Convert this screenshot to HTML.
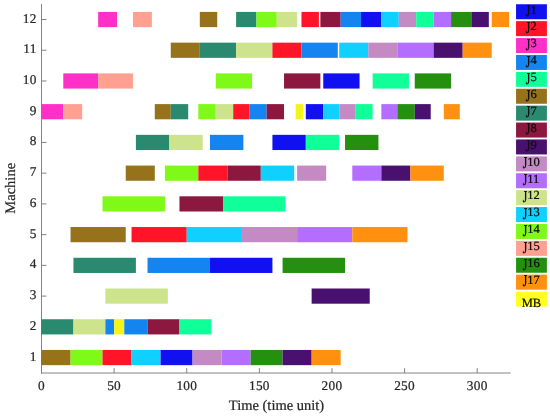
<!DOCTYPE html>
<html lang="en"><head><meta charset="utf-8"><title>Gantt chart</title>
<style>
html,body{margin:0;padding:0;background:#fff;}
body{width:550px;height:416px;overflow:hidden;}
svg{display:block;}
svg text{font-family:"Liberation Serif",serif;fill:#262626;stroke:#262626;stroke-width:0.22px;text-rendering:geometricPrecision;}
.lg text{font-size:12.5px;fill:#0c0c0c;stroke:#0c0c0c;}
.tk text{font-size:13.3px;letter-spacing:0.25px;}
.al{font-size:14.5px;}
</style></head><body>
<svg width="550" height="416" viewBox="0 0 550 416">
<rect width="550" height="416" fill="#fff"/>
<g stroke="#848484" stroke-width="1" fill="none">
<path d="M41.5 4.1V373.6"/>
<path d="M41 373H510.6" stroke-width="1.15"/>
<path d="M41.5 357.56H46.5"/>
<path d="M41.5 326.83H46.5"/>
<path d="M41.5 296.10H46.5"/>
<path d="M41.5 265.37H46.5"/>
<path d="M41.5 234.64H46.5"/>
<path d="M41.5 203.91H46.5"/>
<path d="M41.5 173.17H46.5"/>
<path d="M41.5 142.44H46.5"/>
<path d="M41.5 111.71H46.5"/>
<path d="M41.5 80.98H46.5"/>
<path d="M41.5 50.25H46.5"/>
<path d="M41.5 19.52H46.5"/>
<path d="M41.50 373V368.1"/>
<path d="M114.12 373V368.1"/>
<path d="M186.73 373V368.1"/>
<path d="M259.35 373V368.1"/>
<path d="M331.97 373V368.1"/>
<path d="M404.58 373V368.1"/>
<path d="M477.20 373V368.1"/>
</g>
<g>
<rect x="98.14" y="11.92" width="18.88" height="15.2" fill="#FF30C8"/>
<rect x="133.00" y="11.92" width="18.88" height="15.2" fill="#FFA090"/>
<rect x="199.80" y="11.92" width="17.43" height="15.2" fill="#96721A"/>
<rect x="236.11" y="11.92" width="20.33" height="15.2" fill="#2A8A70"/>
<rect x="256.45" y="11.92" width="20.33" height="15.2" fill="#7FF918"/>
<rect x="276.78" y="11.92" width="20.33" height="15.2" fill="#CDE48C"/>
<rect x="301.47" y="11.92" width="17.43" height="15.2" fill="#FF1428"/>
<rect x="320.35" y="11.92" width="20.33" height="15.2" fill="#8C1840"/>
<rect x="340.68" y="11.92" width="20.33" height="15.2" fill="#1485F0"/>
<rect x="361.01" y="11.92" width="20.33" height="15.2" fill="#1010F0"/>
<rect x="381.35" y="11.92" width="17.43" height="15.2" fill="#10D0FF"/>
<rect x="398.77" y="11.92" width="17.43" height="15.2" fill="#C48AC4"/>
<rect x="416.20" y="11.92" width="17.43" height="15.2" fill="#10FF98"/>
<rect x="433.63" y="11.92" width="17.43" height="15.2" fill="#B46EFF"/>
<rect x="451.06" y="11.92" width="20.33" height="15.2" fill="#259010"/>
<rect x="471.39" y="11.92" width="17.43" height="15.2" fill="#4A1070"/>
<rect x="491.72" y="11.92" width="17.43" height="15.2" fill="#FF9010"/>
<rect x="170.76" y="42.65" width="29.05" height="15.2" fill="#96721A"/>
<rect x="199.80" y="42.65" width="36.31" height="15.2" fill="#2A8A70"/>
<rect x="236.11" y="42.65" width="36.31" height="15.2" fill="#CDE48C"/>
<rect x="272.42" y="42.65" width="29.05" height="15.2" fill="#FF1428"/>
<rect x="301.47" y="42.65" width="36.31" height="15.2" fill="#1485F0"/>
<rect x="339.23" y="42.65" width="29.05" height="15.2" fill="#10D0FF"/>
<rect x="368.27" y="42.65" width="29.05" height="15.2" fill="#C48AC4"/>
<rect x="397.32" y="42.65" width="36.31" height="15.2" fill="#B46EFF"/>
<rect x="433.63" y="42.65" width="29.05" height="15.2" fill="#4A1070"/>
<rect x="462.68" y="42.65" width="29.05" height="15.2" fill="#FF9010"/>
<rect x="63.28" y="73.38" width="34.86" height="15.2" fill="#FF30C8"/>
<rect x="98.14" y="73.38" width="34.86" height="15.2" fill="#FFA090"/>
<rect x="215.78" y="73.38" width="36.31" height="15.2" fill="#7FF918"/>
<rect x="284.04" y="73.38" width="36.31" height="15.2" fill="#8C1840"/>
<rect x="323.25" y="73.38" width="36.31" height="15.2" fill="#1010F0"/>
<rect x="372.63" y="73.38" width="36.31" height="15.2" fill="#10FF98"/>
<rect x="414.75" y="73.38" width="36.31" height="15.2" fill="#259010"/>
<rect x="41.20" y="104.11" width="22.08" height="15.2" fill="#FF30C8"/>
<rect x="63.28" y="104.11" width="18.88" height="15.2" fill="#FFA090"/>
<rect x="154.78" y="104.11" width="15.98" height="15.2" fill="#96721A"/>
<rect x="170.76" y="104.11" width="17.43" height="15.2" fill="#2A8A70"/>
<rect x="198.35" y="104.11" width="17.43" height="15.2" fill="#7FF918"/>
<rect x="215.78" y="104.11" width="17.43" height="15.2" fill="#CDE48C"/>
<rect x="233.21" y="104.11" width="15.98" height="15.2" fill="#FF1428"/>
<rect x="249.18" y="104.11" width="17.43" height="15.2" fill="#1485F0"/>
<rect x="266.61" y="104.11" width="17.43" height="15.2" fill="#8C1840"/>
<rect x="295.66" y="104.11" width="7.26" height="15.2" fill="#F4F418"/>
<rect x="305.82" y="104.11" width="17.43" height="15.2" fill="#1010F0"/>
<rect x="323.25" y="104.11" width="15.98" height="15.2" fill="#10D0FF"/>
<rect x="339.23" y="104.11" width="15.98" height="15.2" fill="#C48AC4"/>
<rect x="355.20" y="104.11" width="17.43" height="15.2" fill="#10FF98"/>
<rect x="381.35" y="104.11" width="15.98" height="15.2" fill="#B46EFF"/>
<rect x="397.32" y="104.11" width="17.43" height="15.2" fill="#259010"/>
<rect x="414.75" y="104.11" width="15.98" height="15.2" fill="#4A1070"/>
<rect x="443.80" y="104.11" width="15.98" height="15.2" fill="#FF9010"/>
<rect x="135.90" y="134.84" width="33.40" height="15.2" fill="#2A8A70"/>
<rect x="169.31" y="134.84" width="33.40" height="15.2" fill="#CDE48C"/>
<rect x="209.97" y="134.84" width="33.40" height="15.2" fill="#1485F0"/>
<rect x="272.42" y="134.84" width="33.40" height="15.2" fill="#1010F0"/>
<rect x="305.82" y="134.84" width="33.40" height="15.2" fill="#10FF98"/>
<rect x="345.04" y="134.84" width="33.40" height="15.2" fill="#259010"/>
<rect x="125.74" y="165.57" width="29.05" height="15.2" fill="#96721A"/>
<rect x="164.95" y="165.57" width="33.40" height="15.2" fill="#7FF918"/>
<rect x="198.35" y="165.57" width="29.05" height="15.2" fill="#FF1428"/>
<rect x="227.40" y="165.57" width="33.40" height="15.2" fill="#8C1840"/>
<rect x="260.80" y="165.57" width="33.40" height="15.2" fill="#10D0FF"/>
<rect x="297.11" y="165.57" width="29.05" height="15.2" fill="#C48AC4"/>
<rect x="352.30" y="165.57" width="29.05" height="15.2" fill="#B46EFF"/>
<rect x="381.35" y="165.57" width="29.05" height="15.2" fill="#4A1070"/>
<rect x="410.39" y="165.57" width="33.40" height="15.2" fill="#FF9010"/>
<rect x="102.50" y="196.31" width="62.45" height="15.2" fill="#7FF918"/>
<rect x="179.47" y="196.31" width="43.57" height="15.2" fill="#8C1840"/>
<rect x="223.04" y="196.31" width="62.45" height="15.2" fill="#10FF98"/>
<rect x="70.55" y="227.04" width="55.19" height="15.2" fill="#96721A"/>
<rect x="131.54" y="227.04" width="55.19" height="15.2" fill="#FF1428"/>
<rect x="186.73" y="227.04" width="55.19" height="15.2" fill="#10D0FF"/>
<rect x="241.92" y="227.04" width="55.19" height="15.2" fill="#C48AC4"/>
<rect x="297.11" y="227.04" width="55.19" height="15.2" fill="#B46EFF"/>
<rect x="352.30" y="227.04" width="55.19" height="15.2" fill="#FF9010"/>
<rect x="73.45" y="257.77" width="62.45" height="15.2" fill="#2A8A70"/>
<rect x="147.52" y="257.77" width="62.45" height="15.2" fill="#1485F0"/>
<rect x="209.97" y="257.77" width="62.45" height="15.2" fill="#1010F0"/>
<rect x="282.59" y="257.77" width="62.45" height="15.2" fill="#259010"/>
<rect x="105.40" y="288.50" width="62.45" height="15.2" fill="#CDE48C"/>
<rect x="311.63" y="288.50" width="58.09" height="15.2" fill="#4A1070"/>
<rect x="41.20" y="319.23" width="32.25" height="15.2" fill="#2A8A70"/>
<rect x="73.45" y="319.23" width="31.95" height="15.2" fill="#CDE48C"/>
<rect x="105.40" y="319.23" width="8.71" height="15.2" fill="#1485F0"/>
<rect x="114.12" y="319.23" width="10.17" height="15.2" fill="#F4F418"/>
<rect x="124.28" y="319.23" width="23.24" height="15.2" fill="#1485F0"/>
<rect x="147.52" y="319.23" width="31.95" height="15.2" fill="#8C1840"/>
<rect x="179.47" y="319.23" width="31.95" height="15.2" fill="#10FF98"/>
<rect x="41.20" y="349.96" width="29.35" height="15.2" fill="#96721A"/>
<rect x="70.55" y="349.96" width="31.95" height="15.2" fill="#7FF918"/>
<rect x="102.50" y="349.96" width="29.05" height="15.2" fill="#FF1428"/>
<rect x="131.54" y="349.96" width="29.05" height="15.2" fill="#10D0FF"/>
<rect x="160.59" y="349.96" width="31.95" height="15.2" fill="#1010F0"/>
<rect x="192.54" y="349.96" width="29.05" height="15.2" fill="#C48AC4"/>
<rect x="221.59" y="349.96" width="29.05" height="15.2" fill="#B46EFF"/>
<rect x="250.64" y="349.96" width="31.95" height="15.2" fill="#259010"/>
<rect x="282.59" y="349.96" width="29.05" height="15.2" fill="#4A1070"/>
<rect x="311.63" y="349.96" width="29.05" height="15.2" fill="#FF9010"/>
</g>
<g class="lg">
<rect x="516.05" y="4.25" width="30.85" height="15" fill="#1010F0"/>
<g><text transform="translate(525.84 16.00) scale(0.92 1.33)">J</text><text x="530.46" y="13.55">1</text></g>
<rect x="516.05" y="21.15" width="30.85" height="15" fill="#FF1428"/>
<g><text transform="translate(525.84 32.90) scale(0.92 1.33)">J</text><text x="530.46" y="30.45">2</text></g>
<rect x="516.05" y="38.05" width="30.85" height="15" fill="#FF30C8"/>
<g><text transform="translate(525.84 49.80) scale(0.92 1.33)">J</text><text x="530.46" y="47.35">3</text></g>
<rect x="516.05" y="54.95" width="30.85" height="15" fill="#1485F0"/>
<g><text transform="translate(525.84 66.70) scale(0.92 1.33)">J</text><text x="530.46" y="64.25">4</text></g>
<rect x="516.05" y="71.85" width="30.85" height="15" fill="#10FF98"/>
<g><text transform="translate(525.84 83.60) scale(0.92 1.33)">J</text><text x="530.46" y="81.15">5</text></g>
<rect x="516.05" y="88.75" width="30.85" height="15" fill="#96721A"/>
<g><text transform="translate(525.84 100.50) scale(0.92 1.33)">J</text><text x="530.46" y="98.05">6</text></g>
<rect x="516.05" y="105.65" width="30.85" height="15" fill="#2A8A70"/>
<g><text transform="translate(525.84 117.40) scale(0.92 1.33)">J</text><text x="530.46" y="114.95">7</text></g>
<rect x="516.05" y="122.55" width="30.85" height="15" fill="#8C1840"/>
<g><text transform="translate(525.84 134.30) scale(0.92 1.33)">J</text><text x="530.46" y="131.85">8</text></g>
<rect x="516.05" y="139.45" width="30.85" height="15" fill="#4A1070"/>
<g><text transform="translate(525.84 151.20) scale(0.92 1.33)">J</text><text x="530.46" y="148.75">9</text></g>
<rect x="516.05" y="156.35" width="30.85" height="15" fill="#C48AC4"/>
<g><text transform="translate(522.72 168.10) scale(0.92 1.33)">J</text><text x="527.34" y="165.65">10</text></g>
<rect x="516.05" y="173.25" width="30.85" height="15" fill="#B46EFF"/>
<g><text transform="translate(522.72 185.00) scale(0.92 1.33)">J</text><text x="527.34" y="182.55">11</text></g>
<rect x="516.05" y="190.15" width="30.85" height="15" fill="#CDE48C"/>
<g><text transform="translate(522.72 201.90) scale(0.92 1.33)">J</text><text x="527.34" y="199.45">12</text></g>
<rect x="516.05" y="207.05" width="30.85" height="15" fill="#10D0FF"/>
<g><text transform="translate(522.72 218.80) scale(0.92 1.33)">J</text><text x="527.34" y="216.35">13</text></g>
<rect x="516.05" y="223.95" width="30.85" height="15" fill="#7FF918"/>
<g><text transform="translate(522.72 235.70) scale(0.92 1.33)">J</text><text x="527.34" y="233.25">14</text></g>
<rect x="516.05" y="240.85" width="30.85" height="15" fill="#FFA090"/>
<g><text transform="translate(522.72 252.60) scale(0.92 1.33)">J</text><text x="527.34" y="250.15">15</text></g>
<rect x="516.05" y="257.75" width="30.85" height="15" fill="#259010"/>
<g><text transform="translate(522.72 269.50) scale(0.92 1.33)">J</text><text x="527.34" y="267.05">16</text></g>
<rect x="516.05" y="274.65" width="30.85" height="15" fill="#FF9010"/>
<g><text transform="translate(522.72 286.40) scale(0.92 1.33)">J</text><text x="527.34" y="283.95">17</text></g>
<rect x="516.05" y="291.7" width="30.85" height="14.9" fill="#FFFF20"/>
<text x="531.4" y="306.5" text-anchor="middle">MB</text>
</g>
<g class="tk">
<text x="41.50" y="390.1" text-anchor="middle">0</text>
<text x="114.12" y="390.1" text-anchor="middle">50</text>
<text x="186.73" y="390.1" text-anchor="middle">100</text>
<text x="259.35" y="390.1" text-anchor="middle">150</text>
<text x="331.97" y="390.1" text-anchor="middle">200</text>
<text x="404.58" y="390.1" text-anchor="middle">250</text>
<text x="477.20" y="390.1" text-anchor="middle">300</text>
<text x="36.6" y="360.56" text-anchor="end">1</text>
<text x="36.6" y="329.83" text-anchor="end">2</text>
<text x="36.6" y="299.10" text-anchor="end">3</text>
<text x="36.6" y="268.37" text-anchor="end">4</text>
<text x="36.6" y="237.64" text-anchor="end">5</text>
<text x="36.6" y="206.91" text-anchor="end">6</text>
<text x="36.6" y="176.17" text-anchor="end">7</text>
<text x="36.6" y="145.44" text-anchor="end">8</text>
<text x="36.6" y="114.71" text-anchor="end">9</text>
<text x="36.6" y="83.98" text-anchor="end">10</text>
<text x="36.6" y="53.25" text-anchor="end">11</text>
<text x="36.6" y="22.52" text-anchor="end">12</text>
</g>
<text class="al" x="276.5" y="409.6" text-anchor="middle">Time (time unit)</text>
<text class="al" transform="translate(15.1 188.3) rotate(-90)" text-anchor="middle">Machine</text>
</svg>
</body></html>
